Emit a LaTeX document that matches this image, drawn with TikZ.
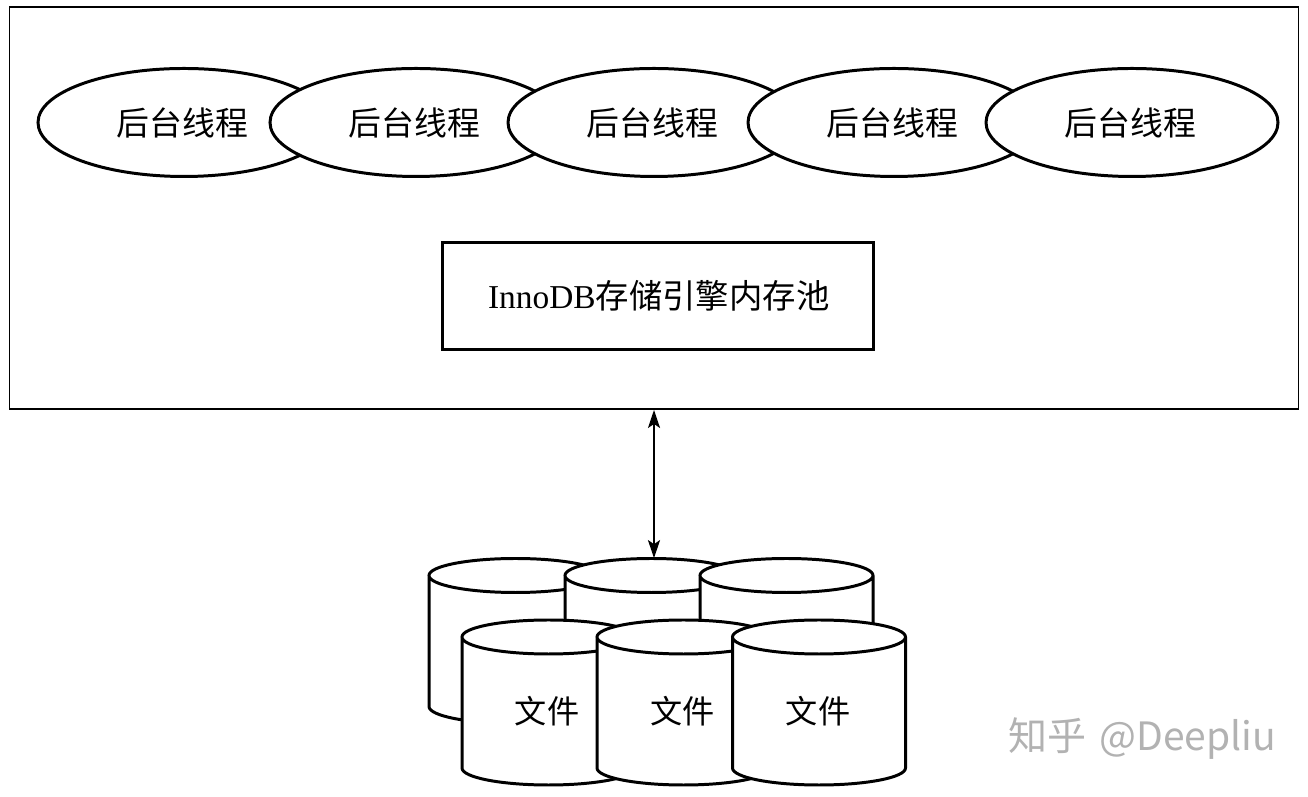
\documentclass[tikz,border=0pt]{standalone}
\usepackage{fontspec}
\setmainfont{Liberation Serif}
\newfontfamily\cjk{Noto Sans CJK SC}
\usetikzlibrary{shapes.geometric}
\usetikzlibrary{arrows.meta}
\usetikzlibrary{positioning}
\tikzset{
  thread/.style={ellipse,draw,line width=1.7pt,fill=white,inner sep=0pt,minimum width=5.84cm,minimum height=2.16cm,font=\fontsize{18.7}{22}\selectfont\cjk},
  fileline/.style={draw,line width=1.7pt,fill=white},
  filebody/.style={inner sep=0pt,minimum width=3.46cm,minimum height=3.3cm},
  filetext/.style={inner sep=0pt,font=\fontsize{18.3}{22}\selectfont\cjk},
  linktip/.style={{Stealth[length=0.36cm,width=0.24cm,inset=0.08cm]}-{Stealth[length=0.36cm,width=0.24cm,inset=0.08cm]}},
}
% name, x, y of one file drum
\newcommand{\filedrum}[3]{
\node[filebody] (#1) at (#2,#3) {};
\draw[fileline,shift={(#2,#3)}] (-1.73,1.31) -- (-1.73,-1.31) arc (180:360:1.73 and 0.34) -- (1.73,1.31) arc (0:360:1.73 and 0.34);
}
\newcommand{\threadname}{后台线程\kern0.07cm}
\begin{document}
\begin{tikzpicture}
\useasboundingbox (0,0) rectangle (26.16,15.94);
\node[draw,line width=1.1pt,minimum width=25.78cm,minimum height=8.04cm,inner sep=0pt] (server) at (13.08,11.78) {};
\node[thread] (thread1) at (3.68,13.49) {\threadname};
\node[thread] (thread2) at (8.32,13.49) {\threadname};
\node[thread] (thread3) at (13.08,13.49) {\threadname};
\node[thread] (thread4) at (17.88,13.49) {\threadname};
\node[thread] (thread5) at (22.64,13.49) {\threadname};
\node[draw,line width=1.7pt,minimum width=8.62cm,minimum height=2.14cm,inner sep=0pt,font=\fontsize{19}{22}\selectfont] (pool) at (13.15,10.02) {\kern0.05cm InnoDB{\cjk 存储引擎内存池}};

\filedrum{back1}{10.31}{3.12}
\filedrum{back2}{13.03}{3.12}
\filedrum{back3}{15.73}{3.12}
\filedrum{front1}{10.97}{1.89}
\filedrum{front2}{13.67}{1.89}
\filedrum{front3}{16.38}{1.89}
\node[filetext] (text1) at (10.94,1.72) {文件};
\node[filetext] (text2) at (13.65,1.72) {文件};
\node[filetext] (text3) at (16.36,1.72) {文件};
\draw[linktip,line width=1.2pt] (server.south) -- (server.south |- back2.north);

\node[text=black!30,font=\fontsize{22.2}{24}\selectfont\cjk,anchor=west,inner sep=0pt] (mark) at (20.16,1.16) {知乎\,\,@Deepliu};
\end{tikzpicture}
\end{document}
